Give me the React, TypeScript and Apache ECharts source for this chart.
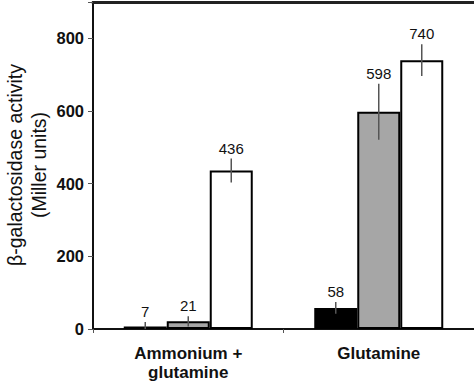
import React, { useEffect, useRef } from "react";
import * as echarts from "echarts";

const categories = ["Ammonium +\nglutamine", "Glutamine"];
const blackValues = [7, 58];
const blackErrors = [12, 16];
const grayValues = [21, 598];
const grayErrors = [14, 77];
const whiteValues = [436, 740];
const whiteErrors = [33, 44];
const yTickLabels = [0, 200, 400, 600, 800];

const FONT = "'Liberation Sans', Arial, Helvetica, sans-serif";
const BAR_W = 43;

function errSeries(values: number[], errors: number[], k: number) {
  return {
    type: "custom",
    z: 5,
    data: values.map((v, i) => [i, v, errors[i]]),
    encode: { x: 0, y: 1 },
    renderItem: (params: any, api: any) => {
      const idx = api.value(0);
      const val = api.value(1);
      const err = api.value(2);
      const top = api.coord([idx, val + err]);
      const bot = api.coord([idx, Math.max(0, val - err)]);
      const x = top[0] + (k - 1) * BAR_W;
      return {
        type: "group",
        children: [
          {
            type: "line",
            shape: { x1: x, y1: top[1], x2: x, y2: bot[1] },
            style: { stroke: "#555", lineWidth: 1.5 },
          },
          {
            type: "text",
            x: x,
            y: top[1] - 3,
            style: {
              text: String(val),
              fill: "#111",
              fontSize: 15,
              fontFamily: FONT,
              align: "center",
              verticalAlign: "bottom",
            },
          },
        ],
      };
    },
  };
}

export default function App() {
  const ref = useRef<HTMLDivElement>(null);
  useEffect(() => {
    if (!ref.current) return;
    const chart = echarts.init(ref.current, null, { renderer: "svg" });
    const barStyle = (color: string) => ({
      color,
      borderColor: "#000",
      borderWidth: 2,
    });
    chart.setOption({
      animation: false,
      backgroundColor: "#fff",
      grid: { left: 93, top: 2, width: 382, height: 327, containLabel: false },
      xAxis: [
        {
          type: "category",
          data: categories,
          axisLine: { lineStyle: { color: "#111", width: 2 } },
          axisTick: { show: true, length: 4, lineStyle: { color: "#555", width: 1 } },
          axisLabel: {
            color: "#111",
            fontWeight: "bold",
            fontSize: 17,
            fontFamily: FONT,
            margin: 15,
            lineHeight: 19,
          },
        },
        {
          type: "category",
          position: "top",
          data: categories,
          axisLine: { show: true, lineStyle: { color: "#222", width: 3 } },
          axisTick: { show: false },
          axisLabel: { show: false },
        },
      ],
      yAxis: {
        type: "value",
        min: 0,
        max: 900,
        interval: 200,
        axisLine: { show: true, lineStyle: { color: "#111", width: 2 } },
        axisTick: { show: true, length: 5, lineStyle: { color: "#555" } },
        splitLine: { show: false },
        axisLabel: {
          color: "#111",
          fontWeight: "bold",
          fontSize: 16.5,
          fontFamily: FONT,
          margin: 9,
          formatter: (v: number) => (yTickLabels.includes(v) ? String(v) : ""),
        },
      },
      graphic: [
        {
          type: "text",
          x: 27,
          y: 165,
          rotation: Math.PI / 2,
          style: {
            text: "β-galactosidase activity\n(Miller units)",
            fill: "#111",
            fontSize: 19.5,
            lineHeight: 24,
            fontFamily: FONT,
            align: "center",
            verticalAlign: "middle",
          },
        },
      ],
      series: [
        { type: "bar", data: blackValues, barWidth: BAR_W, barGap: "0%", itemStyle: barStyle("#000") },
        { type: "bar", data: grayValues, barWidth: BAR_W, barGap: "0%", itemStyle: barStyle("#a6a6a6") },
        { type: "bar", data: whiteValues, barWidth: BAR_W, barGap: "0%", itemStyle: barStyle("#fff") },
        errSeries(blackValues, blackErrors, 0),
        errSeries(grayValues, grayErrors, 1),
        errSeries(whiteValues, whiteErrors, 2),
      ],
    });
    return () => chart.dispose();
  }, []);
  return (
    <div
      ref={ref}
      style={{ position: "fixed", left: 0, top: 0, width: 474, height: 384 }}
    />
  );
}
